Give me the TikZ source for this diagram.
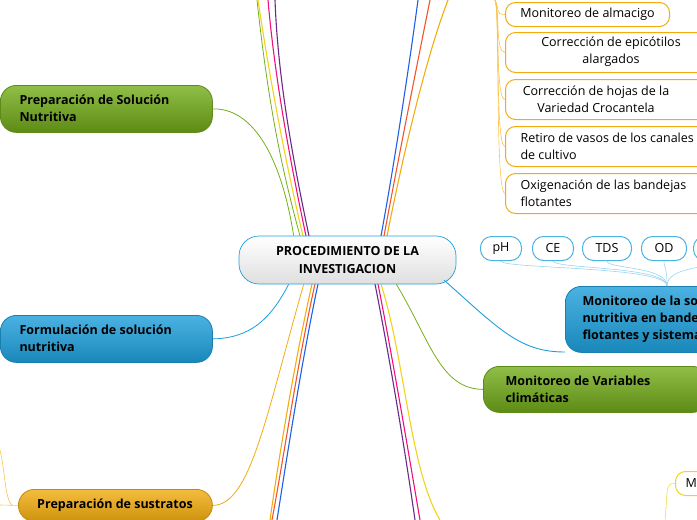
\documentclass[tikz,border=0pt]{standalone}
\usepackage{fontspec}
\setmainfont{Open Sans}
\usetikzlibrary{calc}
\begin{document}
\begin{tikzpicture}[x=1pt,y=-1pt,
  main/.style={draw=#1!80!black, rounded corners=16pt, line width=0.8pt, text=black, inner sep=0},
  bt/.style={font=\bfseries\fontsize{12.5}{17}\selectfont},
  sub/.style={draw=#1, rounded corners=10pt, line width=1pt, fill=white, font=\fontsize{12.5}{17}\selectfont, inner sep=0},
  st/.style={font=\fontsize{12.5}{17}\selectfont},
  cn/.style={line width=1.1pt}]
\useasboundingbox (0,0) rectangle (697,520);
\clip (0,0) rectangle (697,520);
\definecolor{cgreen}{HTML}{74AE1A}
\definecolor{cblue}{HTML}{1E9FDB}
\definecolor{corange}{HTML}{F2AC0F}
\definecolor{cyellow}{HTML}{F2D31B}
\definecolor{cpink}{HTML}{F0107A}
\definecolor{cpurple}{HTML}{6A2A8A}
\definecolor{cred}{HTML}{F2542D}
\definecolor{cdblue}{HTML}{1F60E0}
\definecolor{lorange}{HTML}{F9C54A}
% bundles
\draw[cn,cgreen,line width=0.8pt] (300,236) .. controls (285,180) and (270,120) .. (257,0);
\draw[cn,cyellow] (303,236) .. controls (285,160) and (270,80) .. (258,0);
\draw[cn,cpink] (306,236) .. controls (290,160) and (275,80) .. (268,0);
\draw[cn,cpurple] (309,236) .. controls (293,160) and (278,80) .. (275,0);
\draw[cn,cdblue] (381,236) .. controls (395,160) and (410,60) .. (418,0);
\draw[cn,cred] (384,236) .. controls (398,160) and (418,60) .. (430,0);
\draw[cn,corange] (387,236) .. controls (402,160) and (425,60) .. (448,0);
\draw[cn,corange] (312,284) .. controls (295,360) and (280,450) .. (270,520);
\draw[cn,cred] (315,284) .. controls (298,360) and (285,450) .. (272,520);
\draw[cn,cdblue] (318,284) .. controls (302,360) and (288,450) .. (277,520);
\draw[cn,cpurple] (375,284) .. controls (390,360) and (405,450) .. (415,520);
\draw[cn,cpink] (378,284) .. controls (393,360) and (408,450) .. (420,520);
\draw[cn,cyellow] (381,284) .. controls (405,360) and (410,470) .. (440,520);
% center
\node[main=cblue, bt, top color=white, bottom color=gray!25, minimum width=217pt, minimum height=48pt, align=center, draw=cblue, rounded corners=20pt, line width=0.7pt, font=\bfseries\fontsize{12.5}{18}\selectfont] (c) at (347.5,260) {PROCEDIMIENTO DE LA\\INVESTIGACION};
% left nodes
\node[main=cgreen, top color=cgreen!80!white, bottom color=cgreen!80!black, minimum width=212pt, minimum height=47pt, anchor=north west] (n1) at (0,85) {};
\node[bt, anchor=west, align=left] (t1) at (16,108.5) {Preparación de Solución\\Nutritiva};
\node[main=cblue, top color=cblue!80!white, bottom color=cblue!85!black, minimum width=212pt, minimum height=47pt, anchor=north west] (n2) at (0,315) {};
\node[bt, anchor=west, align=left] (t2) at (16,338.5) {Formulación de solución\\nutritiva};
\node[main=corange, top color=corange!80!white, bottom color=corange!85!black, minimum width=194pt, minimum height=32pt, anchor=north west] (n3) at (18,489) {};
\node[bt] (t3) at (115,505) {Preparación de sustratos};
\draw[cgreen,line width=0.8pt] ($(c.north west)+(55,0)$) .. controls (280,150) and (250,108) .. (n1.east);
\draw[cblue,line width=0.8pt] ($(c.south west)+(50,0)$) .. controls (270,320) and (250,338) .. (n2.east);
\draw[corange,line width=0.8pt] ($(c.south west)+(65,0)$) .. controls (265,420) and (250,505) .. (n3.east);
\draw[lorange,line width=0.6pt] (n3.west) -- (0,505);
\draw[lorange,line width=0.6pt] (0,450) .. controls (5,470) and (5,500) .. (12,505);
% right nodes
\node[main=cblue, top color=cblue!80!white, bottom color=cblue!85!black, minimum width=200pt, minimum height=66pt, anchor=north west] (n4) at (565,286) {};
\node[bt, anchor=west, align=left] (t4) at (579,319) {Monitoreo de la solución\\nutritiva en bandejas\\flotantes y sistema};
\node[main=cgreen, top color=cgreen!80!white, bottom color=cgreen!80!black, minimum width=225pt, minimum height=46pt, anchor=north west] (n5) at (483,366) {};
\node[bt, anchor=west, align=left] (t5) at (502,389) {Monitoreo de Variables\\climáticas};
\draw[cblue,line width=0.9pt] ($(c.south east)+(-12,-4)$) .. controls (500,330) and (520,352) .. (n4.west |- 0,352);
\draw[cgreen,line width=0.8pt] ($(c.south east)+(-60,0)$) .. controls (430,340) and (440,389) .. (n5.west);
% small boxes
\foreach \nm/\lab/\xa/\xb in {ph/pH/480/521, ce/CE/532/573, tds/TDS/582/631, od/OD/641/686, ex/{\phantom{X}}/693/730}{
  \node[sub=cblue!80, minimum height=24pt, minimum width={(\xb-\xa)*1pt}, anchor=north west, rounded corners=11pt] (\nm) at (\xa,236) {\lab};
  \draw[cblue!45, line width=0.6pt] (\nm.south) .. controls ($(\nm.south)+(0,8)$) and (667,266) .. (667,286);
}
% orange subitems
\coordinate (br) at (495,0);
\node[sub=corange, minimum width=164pt, minimum height=24pt, anchor=north west] (o1) at (505,2) {Monitoreo de almacigo};
\node[sub=corange, minimum width=230pt, minimum height=40pt, anchor=north west] (o2) at (505,32) {};
\node[st, align=center] (o2t) at (611,52) {Corrección de epicótilos\\alargados};
\node[sub=corange, minimum width=230pt, minimum height=40pt, anchor=north west] (o3) at (505,79) {};
\node[st, align=center] (o3t) at (596,99) {Corrección de hojas de la\\Variedad Crocantela};
\node[sub=corange, minimum width=230pt, minimum height=40pt, anchor=north west] (o4) at (505,126) {};
\node[st, align=left, anchor=west] (o4t) at (517,146) {Retiro de vasos de los canales\\de cultivo};
\node[sub=corange, minimum width=230pt, minimum height=40pt, anchor=north west] (o5) at (505,173) {};
\node[st, align=left, anchor=west] (o5t) at (517,193) {Oxigenación de las bandejas\\flotantes};
\foreach \o in {o1,o2,o3,o4,o5}{
  \draw[lorange, line width=0.6pt] (br) .. controls (500,10) and (495,0 |- \o.west) .. (\o.west);
}
\node[sub=cyellow, minimum width=60pt, minimum height=24pt, anchor=north west] (y1) at (675,471) {};
\node[st, anchor=west] (y1t) at (682,483) {M};
\coordinate (yb) at (665,520);
\draw[cyellow!80, line width=0.6pt] (yb) .. controls (668,490) and (665,483) .. (y1.west);
\end{tikzpicture}
\end{document}
